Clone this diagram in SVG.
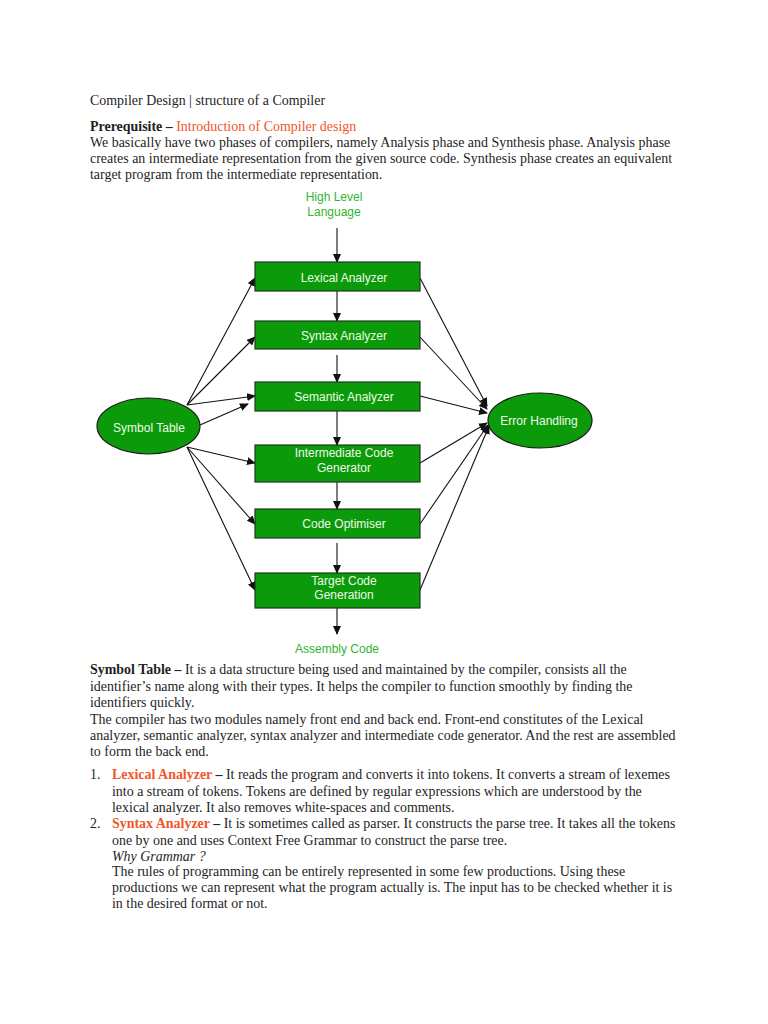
<svg xmlns="http://www.w3.org/2000/svg" width="768" height="1024" viewBox="0 0 768 1024">
<style>
.t{font-family:"Liberation Serif","Times New Roman",serif;font-size:13.95px;fill:#1e1e1e}
.b{font-weight:bold}
.o{fill:#f0562a}
.i{font-style:italic}
.n rect{fill:#0a9a0a;stroke:#1f3a1f;stroke-width:1.2}
.n ellipse{fill:#0a9a0a;stroke:#1a1a1a;stroke-width:1.2}
.l{font-family:"Liberation Sans",Arial,sans-serif;font-size:12px;fill:#eefbe8;text-anchor:middle}
.g{font-family:"Liberation Sans",Arial,sans-serif;font-size:12px;fill:#2fb52f;text-anchor:middle}
.c line{stroke:#111;stroke-width:1.1;marker-end:url(#ah)}
</style>
<defs>
<marker id="ah" markerWidth="9" markerHeight="8" refX="8" refY="4" orient="auto" markerUnits="userSpaceOnUse">
<path d="M0,0 L9,4 L0,8 z" fill="#111"/>
</marker>
</defs>
<rect width="768" height="1024" fill="#fff"/>
<g id="header">
<text class="t" x="90" y="105">Compiler Design | structure of a Compiler</text>
<text class="t" x="90" y="131"><tspan class="b">Prerequisite –</tspan> <tspan class="o">Introduction of Compiler design</tspan></text>
<text class="t" x="90" y="147">We basically have two phases of compilers, namely Analysis phase and Synthesis phase. Analysis phase</text>
<text class="t" x="90" y="163">creates an intermediate representation from the given source code. Synthesis phase creates an equivalent</text>
<text class="t" x="90" y="179">target program from the intermediate representation.</text>
</g>
<g class="c" id="connectors">
<line x1="337" y1="228" x2="337" y2="262"/>
<line x1="337" y1="291" x2="337" y2="321"/>
<line x1="337" y1="355" x2="337" y2="382"/>
<line x1="337" y1="411" x2="337" y2="445"/>
<line x1="337" y1="482" x2="337" y2="509"/>
<line x1="337" y1="543" x2="337" y2="573"/>
<line x1="337" y1="608" x2="337" y2="634"/>
<line x1="187" y1="405" x2="255" y2="278"/>
<line x1="187" y1="405" x2="255" y2="337"/>
<line x1="187" y1="405" x2="255" y2="396"/>
<line x1="200" y1="425" x2="248" y2="404"/>
<line x1="187" y1="447" x2="255" y2="463"/>
<line x1="187" y1="447" x2="255" y2="524"/>
<line x1="187" y1="447" x2="255" y2="590"/>
<line x1="420" y1="278" x2="487" y2="406"/>
<line x1="420" y1="337" x2="487" y2="409"/>
<line x1="420" y1="396" x2="487" y2="413"/>
<line x1="420" y1="463" x2="487" y2="423"/>
<line x1="420" y1="524" x2="488" y2="425"/>
<line x1="420" y1="590" x2="489" y2="426"/>
</g>
<g id="hll"><text class="g" x="334" y="201">High Level</text><text class="g" x="334" y="216">Language</text></g>
<g class="n" id="lexical"><rect x="255" y="262" width="165" height="29"/><text class="l" x="344" y="282">Lexical Analyzer</text></g>
<g class="n" id="syntax"><rect x="255" y="321" width="165" height="28"/><text class="l" x="344" y="340">Syntax Analyzer</text></g>
<g class="n" id="semantic"><rect x="255" y="382" width="165" height="29"/><text class="l" x="344" y="401">Semantic Analyzer</text></g>
<g class="n" id="intermediate"><rect x="255" y="445" width="165" height="37"/><text class="l" x="344" y="457">Intermediate Code</text><text class="l" x="344" y="472">Generator</text></g>
<g class="n" id="optimiser"><rect x="255" y="509" width="165" height="29"/><text class="l" x="344" y="528">Code Optimiser</text></g>
<g class="n" id="target"><rect x="255" y="573" width="165" height="35"/><text class="l" x="344" y="585">Target Code</text><text class="l" x="344" y="599">Generation</text></g>
<g id="assembly"><text class="g" x="337" y="653">Assembly Code</text></g>
<g class="n" id="symbol"><ellipse cx="148.5" cy="426" rx="51.5" ry="28"/><text class="l" x="149" y="432">Symbol Table</text></g>
<g class="n" id="error"><ellipse cx="540" cy="420.5" rx="52" ry="27.5"/><text class="l" x="539" y="425">Error Handling</text></g>
<g id="body">
<text class="t" x="90" y="674"><tspan class="b">Symbol Table –</tspan> It is a data structure being used and maintained by the compiler, consists all the</text>
<text class="t" x="90" y="691">identifier’s name along with their types. It helps the compiler to function smoothly by finding the</text>
<text class="t" x="90" y="707">identifiers quickly.</text>
<text class="t" x="90" y="724">The compiler has two modules namely front end and back end. Front-end constitutes of the Lexical</text>
<text class="t" x="90" y="740">analyzer, semantic analyzer, syntax analyzer and intermediate code generator. And the rest are assembled</text>
<text class="t" x="90" y="756">to form the back end.</text>
<text class="t" x="90" y="779">1.</text>
<text class="t" x="112" y="779"><tspan class="b o">Lexical Analyzer</tspan><tspan class="b"> –</tspan> It reads the program and converts it into tokens. It converts a stream of lexemes</text>
<text class="t" x="112" y="796">into a stream of tokens. Tokens are defined by regular expressions which are understood by the</text>
<text class="t" x="112" y="812">lexical analyzer. It also removes white-spaces and comments.</text>
<text class="t" x="90" y="828">2.</text>
<text class="t" x="112" y="828"><tspan class="b o">Syntax Analyzer</tspan><tspan class="b"> –</tspan> It is sometimes called as parser. It constructs the parse tree. It takes all the tokens</text>
<text class="t" x="112" y="845">one by one and uses Context Free Grammar to construct the parse tree.</text>
<text class="t i" x="112" y="861">Why Grammar ?</text>
<text class="t" x="112" y="876">The rules of programming can be entirely represented in some few productions. Using these</text>
<text class="t" x="112" y="892">productions we can represent what the program actually is. The input has to be checked whether it is</text>
<text class="t" x="112" y="908">in the desired format or not.</text>
</g>
</svg>
